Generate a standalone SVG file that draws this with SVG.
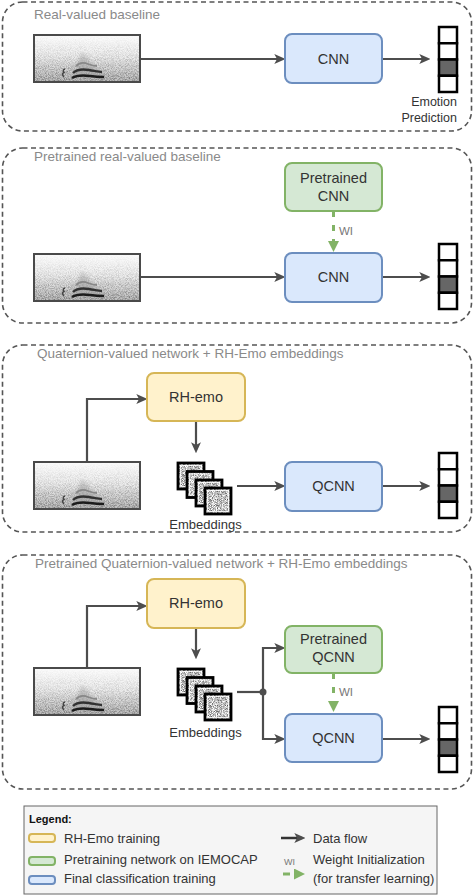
<svg xmlns="http://www.w3.org/2000/svg" xmlns:xlink="http://www.w3.org/1999/xlink" width="474" height="896" viewBox="0 0 474 896">
<style>
text{font-family:"Liberation Sans",Arial,sans-serif;}
.panel{fill:none;stroke:#555;stroke-width:1.6;stroke-dasharray:5 3.5;}
.title{font-size:13.5px;fill:#8a8a8a;}
.lbl{font-size:14.5px;fill:#333;text-anchor:middle;}
.small{font-size:12.5px;fill:#333;}
.blue{fill:#dae8fc;stroke:#6c8ebf;stroke-width:2;}
.green{fill:#d5e8d4;stroke:#82b366;stroke-width:2;}
.yellow{fill:#fff2cc;stroke:#d6b656;stroke-width:2;}
.flow{fill:none;stroke:#4d4d4d;stroke-width:2.2;marker-end:url(#arr);}
.line{fill:none;stroke:#4d4d4d;stroke-width:2.2;}
.wi{fill:none;stroke:#82b366;stroke-width:3;stroke-dasharray:6 8;marker-end:url(#garr);}
.wit{font-size:11.5px;fill:#777;}
.leg{font-size:13px;fill:#333;}
.cell{fill:#fff;stroke:#000;stroke-width:2.5;}
.sq{fill:none;stroke:#000;stroke-width:2.8;}
</style>
<defs>
<marker id="arr" viewBox="0 0 10 10" refX="7" refY="5" markerWidth="11" markerHeight="11" markerUnits="userSpaceOnUse" orient="auto">
<path d="M0,0.5 L10,5 L0,9.5 L2.5,5 z" fill="#4d4d4d"/>
</marker>
<marker id="garr" viewBox="0 0 10 10" refX="0" refY="5" markerWidth="11" markerHeight="11" markerUnits="userSpaceOnUse" orient="auto">
<path d="M0,0 L10,5 L0,10 z" fill="#82b366"/>
</marker>
<linearGradient id="specgrad" x1="0" y1="0" x2="0" y2="1">
<stop offset="0" stop-color="#fcfcfc"/>
<stop offset="0.45" stop-color="#efefef"/>
<stop offset="1" stop-color="#bcbcbc"/>
</linearGradient>
<linearGradient id="maskgrad" x1="0" y1="0" x2="0" y2="1">
<stop offset="0" stop-color="#000"/>
<stop offset="0.3" stop-color="#333"/>
<stop offset="1" stop-color="#ccc"/>
</linearGradient>
<mask id="specmask" maskContentUnits="userSpaceOnUse">
<rect x="0" y="0" width="108" height="49" fill="url(#maskgrad)"/>
</mask>
<filter id="specnoise" x="0" y="0" width="1" height="1" color-interpolation-filters="sRGB">
<feTurbulence type="fractalNoise" baseFrequency="1.1" numOctaves="2" seed="7"/>
<feColorMatrix type="matrix" values="0 0 0 0 0  0 0 0 0 0  0 0 0 0 0  1.1 0 0 0 -0.38"/>
<feComposite in2="SourceGraphic" operator="in"/>
</filter>
<filter id="embnoise" x="0" y="0" width="1" height="1" color-interpolation-filters="sRGB">
<feTurbulence type="fractalNoise" baseFrequency="1.2" numOctaves="2" seed="2"/>
<feColorMatrix type="matrix" values="1.4 0 0 0 0.05  1.4 0 0 0 0.05  1.4 0 0 0 0.05  0 0 0 0 1"/>
<feComposite in2="SourceGraphic" operator="in"/>
</filter>
<filter id="soft" x="-20%" y="-50%" width="140%" height="200%">
<feGaussianBlur stdDeviation="0.6"/>
</filter>
<filter id="soft2" x="-50%" y="-50%" width="200%" height="200%">
<feGaussianBlur stdDeviation="2"/>
</filter>
<g id="spec">
<rect x="0" y="0" width="108" height="49" fill="url(#specgrad)"/>
<rect x="0" y="0" width="108" height="49" fill="#000" filter="url(#specnoise)" mask="url(#specmask)"/>
<path d="M49,18 L39,44 L71,44 z" fill="#999" opacity="0.5" filter="url(#soft2)"/>
<path d="M31,30 L31,40" stroke="#aaa" stroke-width="1.5" fill="none" filter="url(#soft2)"/>
<g fill="none" filter="url(#soft)">
<path d="M43,32 C46,29 50,28 55,30 S62,32 64,32" stroke="#888" stroke-width="1.8"/>
<path d="M40,39 C44,35 50,35 56,36 S66,38 69,38" stroke="#333" stroke-width="2.4"/>
<path d="M39,44 C44,41 50,41 57,42 S66,43 71,43" stroke="#1a1a1a" stroke-width="2.6"/>
<path d="M32,35 q-3,1 -1,3.5 q-3,1 0,4.5" stroke="#444" stroke-width="1.4"/>
</g>
<rect x="1" y="1" width="106" height="47" fill="none" stroke="#4a4a4a" stroke-width="2"/>
</g>
<g id="sq1">
<rect x="0" y="0" width="26" height="26" fill="#999" filter="url(#embnoise)"/>
<rect x="2.5" y="2.5" width="21" height="21" fill="none" stroke="#fff" stroke-width="0.8"/>
<rect x="0" y="0" width="26" height="26" class="sq"/>
</g>
<g id="emb">
<use xlink:href="#sq1" x="0" y="0"/>
<use xlink:href="#sq1" x="9" y="8.5"/>
<use xlink:href="#sq1" x="18" y="17"/>
<use xlink:href="#sq1" x="27" y="25"/>
</g>
<g id="vec">
<rect x="0" y="0" width="18" height="16.25" class="cell"/>
<rect x="0" y="16.25" width="18" height="16.25" class="cell"/>
<rect x="0" y="32.5" width="18" height="16.25" class="cell" style="fill:#666"/>
<rect x="0" y="48.75" width="18" height="16.25" class="cell"/>
</g>
</defs>

<g id="panels">
<rect id="panel1" x="2.5" y="2" width="469" height="129" rx="20" class="panel"/>
<rect id="panel2" x="2.5" y="148" width="469" height="175" rx="20" class="panel"/>
<rect id="panel3" x="2.5" y="345" width="469" height="187" rx="20" class="panel"/>
<rect id="panel4" x="2.5" y="555" width="469" height="234" rx="20" class="panel"/>
<text class="title" x="34" y="19">Real-valued baseline</text>
<text class="title" x="34" y="161">Pretrained real-valued baseline</text>
<text class="title" x="37" y="358">Quaternion-valued network + RH-Emo embeddings</text>
<text class="title" x="35" y="568">Pretrained Quaternion-valued network + RH-Emo embeddings</text>
</g>

<g id="connectors">
<path class="flow" d="M141,59 L282,59"/>
<path class="flow" d="M382,59 L427,59"/>
<path class="wi" d="M333.5,211 L333.5,241"/>
<path class="flow" d="M141,277 L282,277"/>
<path class="flow" d="M382,277 L427,277"/>
<path class="flow" d="M87,461 L87,399 L144,399"/>
<path class="flow" d="M196,421 L196,450"/>
<path class="flow" d="M237,486 L282,486"/>
<path class="flow" d="M382,486 L427,486"/>
<path class="flow" d="M87,667 L87,606 L144,606"/>
<path class="flow" d="M196,628 L196,656"/>
<path class="line" d="M237,692 L263,692"/>
<path class="flow" d="M263,692 L263,648 L282,648"/>
<path class="flow" d="M263,692 L263,739 L282,739"/>
<circle cx="263" cy="692" r="3.5" fill="#4d4d4d"/>
<path class="wi" d="M333.5,673 L333.5,701"/>
<path class="flow" d="M382,739 L427,739"/>
</g>
<g id="wi-labels">
<text class="wit" x="339" y="235">WI</text>
<text class="wit" x="339" y="696">WI</text>
</g>

<g id="spec1"><use xlink:href="#spec" x="33" y="34"/></g>
<g id="cnn1"><rect x="285" y="34" width="97" height="49" rx="7" class="blue"/><text class="lbl" x="333.5" y="64">CNN</text></g>
<g id="out1"><use xlink:href="#vec" x="439" y="27"/>
<text class="small" x="457" y="106" text-anchor="end">Emotion</text>
<text class="small" x="457" y="122" text-anchor="end">Prediction</text></g>

<g id="pcnn2"><rect x="285" y="163" width="97" height="48" rx="7" class="green"/><text class="lbl" x="333.5" y="183">Pretrained</text><text class="lbl" x="333.5" y="201">CNN</text></g>
<g id="spec2"><use xlink:href="#spec" x="33" y="253"/></g>
<g id="cnn2"><rect x="285" y="253" width="97" height="49" rx="7" class="blue"/><text class="lbl" x="333.5" y="282">CNN</text></g>
<g id="out2"><use xlink:href="#vec" x="439" y="244"/></g>

<g id="rhemo3"><rect x="147" y="373" width="98" height="48" rx="7" class="yellow"/><text class="lbl" x="196" y="402">RH-emo</text></g>
<g id="spec3"><use xlink:href="#spec" x="33" y="461"/></g>
<g id="emb3"><use xlink:href="#emb" x="178" y="463"/><text class="small" x="205.5" y="529" text-anchor="middle" style="font-size:13px">Embeddings</text></g>
<g id="qcnn3"><rect x="285" y="462" width="97" height="49" rx="7" class="blue"/><text class="lbl" x="333.5" y="491">QCNN</text></g>
<g id="out3"><use xlink:href="#vec" x="439" y="453"/></g>

<g id="rhemo4"><rect x="147" y="579" width="98" height="49" rx="7" class="yellow"/><text class="lbl" x="196" y="608">RH-emo</text></g>
<g id="spec4"><use xlink:href="#spec" x="33" y="667"/></g>
<g id="emb4"><use xlink:href="#emb" x="178" y="669"/><text class="small" x="205.5" y="737" text-anchor="middle" style="font-size:13px">Embeddings</text></g>
<g id="pqcnn4"><rect x="285" y="626" width="97" height="47" rx="7" class="green"/><text class="lbl" x="333.5" y="644">Pretrained</text><text class="lbl" x="333.5" y="662">QCNN</text></g>
<g id="qcnn4"><rect x="285" y="714" width="97" height="48" rx="7" class="blue"/><text class="lbl" x="333.5" y="743">QCNN</text></g>
<g id="out4"><use xlink:href="#vec" x="439" y="707"/></g>

<g id="legend">
<rect x="24" y="806" width="413" height="88" fill="#f5f5f5" stroke="#666" stroke-width="1"/>
<text x="29" y="823" style="font-size:11px;font-weight:bold;fill:#111">Legend:</text>
<rect x="29" y="834" width="26" height="8" rx="3" class="yellow"/>
<text class="leg" x="64" y="843">RH-Emo training</text>
<rect x="29" y="857" width="26" height="8" rx="3" class="green"/>
<text class="leg" x="64" y="864">Pretraining network on IEMOCAP</text>
<rect x="29" y="876" width="26" height="8" rx="3" class="blue"/>
<text class="leg" x="64" y="883">Final classification training</text>
<path d="M281,838 L302,838" fill="none" stroke="#333" stroke-width="2.5" marker-end="url(#arr)"/>
<text class="leg" x="313" y="843">Data flow</text>
<text x="284" y="865" style="font-size:9px;fill:#777">WI</text>
<path d="M283,874 L294,874" fill="none" stroke="#82b366" stroke-width="3" stroke-dasharray="7 4" marker-end="url(#garr)"/>
<text class="leg" x="313" y="864">Weight Initialization</text>
<text class="leg" x="313" y="883">(for transfer learning)</text>
</g>
</svg>
